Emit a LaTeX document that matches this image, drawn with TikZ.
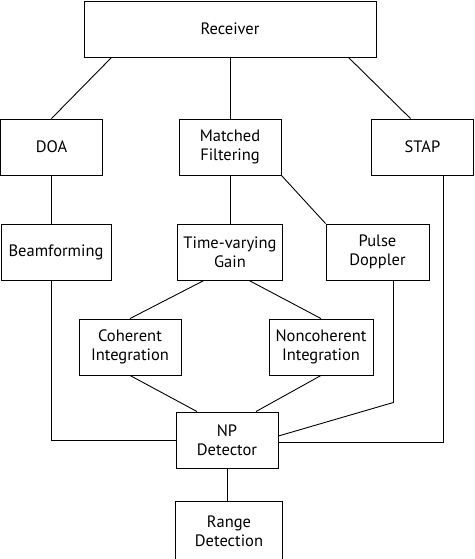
\documentclass[tikz,border=0pt]{standalone}
\usepackage{fontspec}
\setmainfont{PT Sans}
\usetikzlibrary{positioning}

\begin{document}
\begin{tikzpicture}[x=1pt,y=1pt,line width=0.9pt,
    every node/.style={on grid},
    box/.style={draw,align=center,minimum width=102pt,minimum height=56pt,
      inner sep=2pt,font=\fontsize{16.5}{19}\selectfont}]
    \useasboundingbox (0,0) rectangle (474,559);
    \node[box,minimum width=292pt] (rec) at (230,530) {Receiver};
    \node[box,below=118pt of rec] (mf) {Matched\\Filtering};
    \node[box,left=178.5pt of mf] (doa) {DOA};
    \node[box,right=192.5pt of mf] (stap) {STAP};
    \node[box,below=105pt of mf,minimum width=105pt] (tvg) {Time-varying\\Gain};
    \node[box,left=174pt of tvg,minimum width=110pt] (beam) {Beamforming};
    \node[box,right=147.5pt of tvg,minimum width=103pt] (pd) {Pulse\\Doppler};
    \node[box,below left=95pt and 100pt of tvg] (coh) {Coherent\\Integration};
    \node[box,right=191pt of coh,minimum width=104pt] (nonc) {Noncoherent\\Integration};
    \node[box,below right=93pt and 97pt of coh] (np) {NP\\Detector};
    \node[box,below=91pt of np,xshift=2pt,minimum width=107pt,minimum height=60pt] (range) {Range\\Detection};
    \draw ([xshift=28pt]rec.south west) -- (doa.north);
    \draw (rec.south) -- (mf.north);
    \draw ([xshift=-28pt]rec.south east) -- ([xshift=-12pt]stap.north);
    \draw (doa.south) -- (doa.south |- beam.north);
    \draw (mf) -- (tvg);
    \draw (mf.south east) -- (pd.north west);
    \draw ([xshift=-26pt]tvg.south) -- (coh.north);
    \draw ([xshift=19pt]tvg.south) -- (nonc.north);
    \draw (coh.south) -- ([xshift=-30pt]np.north);
    \draw (nonc.south) -- ([xshift=29pt]np.north);
    \draw (np.south) -- (np.south |- range.north);
    \draw (doa.south |- beam.south) |- (np.west);
    \draw ([xshift=21pt]stap.south) |- ([yshift=-2pt]np.east);
    \draw ([xshift=16pt]pd.south) -- ++(0,-122pt) -- ([yshift=4pt]np.east);
\end{tikzpicture}
\end{document}
